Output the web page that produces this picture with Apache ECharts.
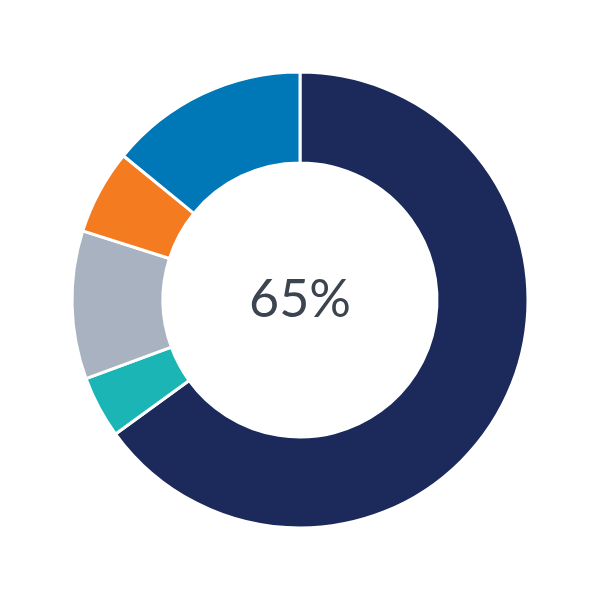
<!DOCTYPE html>
<html>
<head>
<meta charset="utf-8">
<script src="https://cdn.jsdelivr.net/npm/echarts@6/dist/echarts.min.js"></script>
<style>
  html, body { margin: 0; padding: 0; background: #fff; }
  #chart { width: 600px; height: 600px; }
</style>
</head>
<body>
<div id="chart"></div>
<script>
// segments, clockwise from 12 o'clock
var segNames = ['A', 'B', 'C', 'D', 'E'];
var segValues = [65, 4.4, 10.5, 6, 14.1];
var segColors = ['#1b2a5a', '#1cb5b5', '#a8b2c1', '#f47b20', '#0077b6'];
var centerLabel = '65%';

var chart = echarts.init(document.getElementById('chart'));

var pieData = [];
for (var i = 0; i < segValues.length; i++) {
    pieData.push({ name: segNames[i], value: segValues[i], itemStyle: { color: segColors[i] } });
}

var option = {
    animation: false,
    title: {
        text: centerLabel,
        left: 'center',
        top: 'middle',
        textStyle: {
            fontFamily: 'Lato',
            fontWeight: 'normal',
            fontSize: 52,
            color: '#3c4450'
        }
    },
    series: [
        {
            type: 'pie',
            center: [300, 300],
            radius: [137, 228],
            startAngle: 90,
            clockwise: true,
            label: { show: false },
            labelLine: { show: false },
            itemStyle: {
                borderColor: '#fff',
                borderWidth: 3
            },
            data: pieData
        }
    ]
};
chart.setOption(option);
</script>
</body>
</html>
